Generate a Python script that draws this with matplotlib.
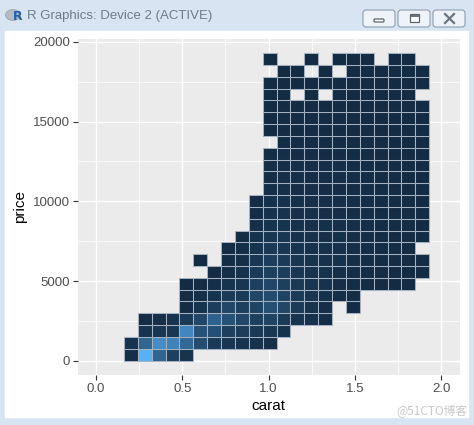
import matplotlib.pyplot as plt
import numpy as np
from matplotlib.colors import LinearSegmentedColormap, Normalize
from matplotlib.patches import Rectangle, FancyBboxPatch, Ellipse

# bins: 22 carat columns x 26 price rows (counts, 0 = empty bin)
carat_start, carat_width = 0.162, 0.0804
price_start, price_width = 20, 741

counts = [
    [150, 4400, 1900, 700, 300] + [0] * 17,
    [250, 1900, 3200, 2900, 2000, 1100, 500, 350, 300, 250, 150] + [0] * 11,
    [0, 300, 350, 400, 3000, 1300, 1200, 700, 600, 500, 400, 250] + [0] * 10,
    [0, 50, 150, 300, 500, 900, 1800, 1300, 900, 700, 800, 500, 300, 200, 100] + [0] * 7,
    [0, 0, 0, 0, 60, 300, 600, 900, 700, 800, 1200, 900, 500, 300, 150, 0, 20, 0, 0, 0, 0, 0],
    [0, 0, 0, 0, 40, 150, 300, 500, 500, 900, 1100, 800, 500, 350, 200, 120, 60, 0, 0, 0, 0, 0],
    [0, 0, 0, 0, 20, 60, 150, 300, 350, 700, 900, 700, 450, 350, 250, 150, 100, 60, 40, 20, 10, 0],
    [0, 0, 0, 0, 0, 0, 60, 150, 250, 500, 700, 600, 400, 300, 250, 150, 120, 80, 50, 30, 20, 10],
    [0, 0, 0, 0, 0, 5, 0, 80, 150, 400, 600, 500, 350, 300, 250, 200, 150, 100, 80, 60, 40, 20],
    [0] * 7 + [40, 100, 300, 450, 400, 300, 250, 200, 180, 150, 100, 80, 50, 30] + [0],
    [0] * 8 + [60, 200, 350, 350, 250, 200, 180, 160, 140, 100, 80, 60, 40, 20],
    [0] * 9 + [150, 300, 300, 200, 180, 160, 150, 130, 100, 80, 60, 40, 20],
    [0] * 9 + [80, 250, 250, 180, 160, 150, 140, 120, 100, 80, 60, 40, 20],
    [0] * 9 + [40, 200, 220, 160, 150, 140, 130, 120, 100, 80, 60, 40, 20],
    [0] * 10 + [150, 180, 140, 130, 120, 110, 100, 90, 70, 50, 30, 15],
    [0] * 10 + [120, 150, 130, 120, 110, 100, 90, 80, 60, 40, 30, 15],
    [0] * 10 + [90, 120, 110, 100, 90, 90, 80, 70, 50, 40, 25, 12],
    [0] * 10 + [60, 100, 90, 90, 80, 80, 70, 60, 50, 35, 20, 10],
    [0] * 11 + [80, 70, 70, 70, 60, 60, 50, 40, 30, 20, 10],
    [0] * 10 + [20, 60, 60, 55, 55, 50, 50, 45, 35, 25, 15, 8],
    [0] * 10 + [15, 50, 50, 45, 45, 40, 40, 35, 30, 20, 12, 6],
    [0] * 10 + [10, 40, 40, 35, 35, 30, 30, 30, 25, 15, 10, 5],
    [0] * 10 + [5, 20, 0, 15, 0, 15, 15, 12, 10, 8, 5, 0],
    [0] * 10 + [4, 15, 12, 12, 12, 10, 10, 10, 8, 6, 4, 2],
    [0] * 10 + [0, 8, 6, 0, 5, 0, 5, 5, 4, 3, 2, 1],
    [0] * 10 + [1, 0, 0, 2, 0, 2, 2, 2, 0, 1, 1, 0],
]

x_ticks = [0.0, 0.5, 1.0, 1.5, 2.0]
x_labels = ["0.0", "0.5", "1.0", "1.5", "2.0"]
y_ticks = [0, 5000, 10000, 15000, 20000]
y_labels = ["0", "5000", "10000", "15000", "20000"]

W, H = 474, 425
fig = plt.figure(figsize=(W / 100, H / 100), dpi=100)

# window chrome drawn in pixel coords
chrome = fig.add_axes([0, 0, 1, 1])
chrome.set_xlim(0, W)
chrome.set_ylim(H, 0)
chrome.axis("off")
chrome.add_patch(Rectangle((0, 0), W, H, color="#d8e4f1"))
grad = np.linspace(0, 1, 40).reshape(-1, 1)
bar_cmap = LinearSegmentedColormap.from_list("bar", ["#e6eef8", "#d2e0ef"])
chrome.imshow(grad, cmap=bar_cmap, extent=(0, W, 31, 0), aspect="auto")
chrome.add_patch(Rectangle((5, 31), 463, 386, color="white"))

# R icon + title
chrome.add_patch(Ellipse((13, 15), 15, 11, facecolor="#b3bac4", edgecolor="#9aa2ad", lw=0.5))
chrome.text(18, 16, "R", color="#1f5fb0", fontsize=9, fontweight="bold", ha="center", va="center")
chrome.text(27, 15.5, "R Graphics: Device 2 (ACTIVE)", color="#6f7b88", fontsize=9.5,
            family="Liberation Sans", va="center", ha="left")

# window buttons
for bx in [363, 398, 433]:
    chrome.add_patch(FancyBboxPatch((bx, 10), 32, 17, boxstyle="round,pad=0,rounding_size=3",
                                    facecolor="#eef3f9", edgecolor="#8d9db0", lw=0.8))
chrome.add_patch(FancyBboxPatch((374, 19), 10, 3, boxstyle="round,pad=0,rounding_size=1",
                                facecolor="white", edgecolor="#5b6470", lw=0.9))
chrome.add_patch(Rectangle((410, 14), 9, 8, facecolor="white", edgecolor="#5b6470", lw=0.9))
chrome.plot([411, 418], [15.5, 15.5], color="#5b6470", lw=1.3)
chrome.plot([445, 454], [14, 23], color="#6a7480", lw=1.6)
chrome.plot([445, 454], [23, 14], color="#6a7480", lw=1.6)

# watermark
chrome.text(432, 412, "@51CTO博客", color="#c9c9c9", fontsize=8.5,
            family=["Noto Sans CJK SC", "DejaVu Sans"], ha="center", va="center")

# plot panel
left, right, top, bottom = 77.7, 460, 38.5, 375
ax = fig.add_axes([left / W, 1 - bottom / H, (right - left) / W, (bottom - top) / H])
ax.set_facecolor("#EBEBEB")
ax.set_xlim(-0.106, 2.109)
ax.set_ylim(-880, 20200)

for v in [0.25, 0.75, 1.25, 1.75]:
    ax.axvline(v, color="white", lw=0.5, zorder=0)
for v in [2500, 7500, 12500, 17500]:
    ax.axhline(v, color="white", lw=0.5, zorder=0)
for v in x_ticks:
    ax.axvline(v, color="white", lw=1.0, zorder=0)
for v in y_ticks:
    ax.axhline(v, color="white", lw=1.0, zorder=0)

cmap = LinearSegmentedColormap.from_list("gg", ["#132B43", "#56B1F7"])
arr = np.array(counts, dtype=float)
norm = Normalize(vmin=arr[arr > 0].min(), vmax=arr.max())
for r, row in enumerate(counts):
    for c, n in enumerate(row):
        if n > 0:
            ax.bar(carat_start + c * carat_width, price_width, width=carat_width,
                   bottom=price_start + r * price_width, align="edge",
                   color=cmap(norm(n)), edgecolor="#a3b1c0", linewidth=0.75, zorder=2)

for s in ax.spines.values():
    s.set_visible(False)
ax.set_xticks(x_ticks)
ax.set_xticklabels(x_labels)
ax.set_yticks(y_ticks)
ax.set_yticklabels(y_labels)
ax.tick_params(axis="both", colors="#333333", length=3.5, width=0.8, labelsize=9.5,
               labelcolor="#4D4D4D", pad=2)
for lab in ax.get_xticklabels() + ax.get_yticklabels():
    lab.set_family("Liberation Sans")
ax.set_xlabel("carat", fontsize=11, family="Liberation Sans", labelpad=3)
ax.set_ylabel("price", fontsize=11, family="Liberation Sans", labelpad=4)

fig.savefig("out.png", dpi=100)
